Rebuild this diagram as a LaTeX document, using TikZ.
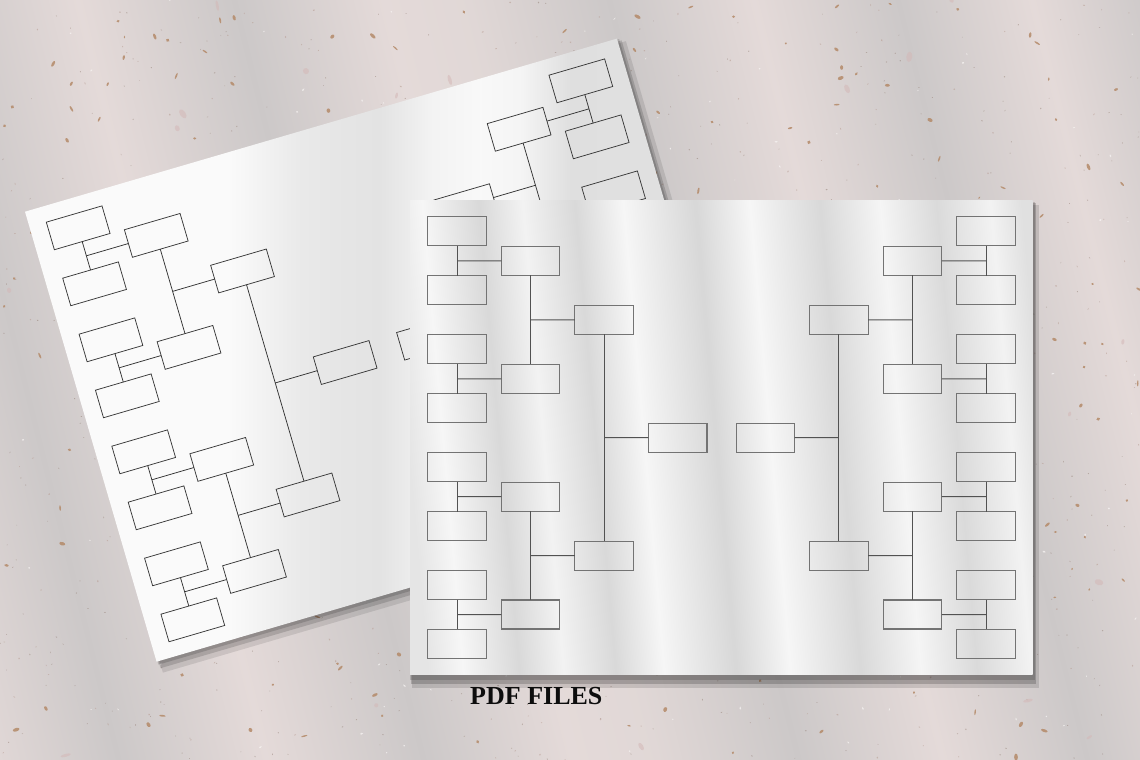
\documentclass[tikz,border=0pt]{standalone}
\usepackage{fontspec}
\setmainfont{Liberation Serif}
\usetikzlibrary{calc}

% background bands (local x -> bp = x/40 + 32.5)
\pgfdeclarehorizontalshading{bgsh}{100bp}{rgb(0bp)=(0.895,0.855,0.85);rgb(30bp)=(0.895,0.855,0.85);rgb(33.5bp)=(0.80,0.785,0.785);rgb(37.1bp)=(0.895,0.855,0.85);rgb(40.9bp)=(0.80,0.785,0.785);rgb(44.5bp)=(0.895,0.855,0.85);rgb(46.5bp)=(0.88,0.845,0.84);rgb(50bp)=(0.80,0.785,0.785);rgb(53.5bp)=(0.895,0.855,0.85);rgb(57bp)=(0.80,0.785,0.785);rgb(60.25bp)=(0.895,0.855,0.85);rgb(63.25bp)=(0.80,0.785,0.785);rgb(66.25bp)=(0.895,0.855,0.85);rgb(100bp)=(0.895,0.855,0.85)}

\pgfdeclarehorizontalshading{backsh}{100bp}{rgb(0bp)=(0.98,0.98,0.98);rgb(38.25bp)=(0.98,0.98,0.98);rgb(40bp)=(0.915,0.915,0.915);rgb(41bp)=(0.90,0.90,0.90);rgb(42bp)=(0.89,0.89,0.89);rgb(43.25bp)=(0.95,0.95,0.95);rgb(44.5bp)=(0.975,0.975,0.975);rgb(45.5bp)=(0.96,0.96,0.96);rgb(46.75bp)=(0.875,0.875,0.875);rgb(49bp)=(0.88,0.88,0.88);rgb(100bp)=(0.88,0.88,0.88)}

\pgfdeclarehorizontalshading{frontsh}{100bp}{rgb(0bp)=(0.90,0.90,0.90);rgb(42.75bp)=(0.90,0.90,0.90);rgb(43.6bp)=(0.965,0.965,0.965);rgb(45bp)=(0.85,0.85,0.85);rgb(46.1bp)=(0.95,0.95,0.95);rgb(47.4bp)=(0.85,0.85,0.85);rgb(48.6bp)=(0.965,0.965,0.965);rgb(50.4bp)=(0.845,0.845,0.845);rgb(51.75bp)=(0.965,0.965,0.965);rgb(53.5bp)=(0.85,0.85,0.85);rgb(55bp)=(0.96,0.96,0.96);rgb(56.4bp)=(0.855,0.855,0.855);rgb(57.75bp)=(0.95,0.95,0.95);rgb(58.5bp)=(0.88,0.88,0.88);rgb(100bp)=(0.88,0.88,0.88)}

\definecolor{spkbrown}{RGB}{180,138,105}
\definecolor{spkdot1}{RGB}{150,130,120}
\definecolor{spkdot2}{RGB}{185,160,150}
\definecolor{spkpink}{RGB}{212,184,183}
\definecolor{spkwhite}{RGB}{246,243,242}

\tikzset{
  fbox/.style={rectangle, draw=black!55, line width=1.1pt, minimum width=58.6pt, minimum height=29pt, inner sep=0pt, outer sep=0pt},
  fconn/.style={draw=black!68, line width=1pt},
  bbox/.style={rectangle, draw=black!78, line width=0.75pt, minimum width=58.6pt, minimum height=29pt, inner sep=0pt, outer sep=0pt},
  bconn/.style={draw=black!80, line width=0.75pt},
}

% #1 prefix, #2 side L/R, #3 sign, #4 anchor west/east, #5 style prefix f/b
\newcommand\bracketside[5]{%
  \foreach \k in {0,1,2,3}{%
    \pgfmathtruncatemacro\nb{8/2^\k-1}%
    \pgfmathsetmacro\cx{311.5+(#3)*(-264.5+73.55*\k)}%
    \foreach \j in {0,...,\nb}{%
      \pgfmathsetmacro\cy{30.7+29.47*((2^\k-1)+\j*2^(\k+1))}%
      \node[#5box] (#1#2\k-\j) at (\cx,\cy) {};
    }%
  }%
  \foreach \k in {0,1,2}{%
    \pgfmathtruncatemacro\np{4/2^\k-1}%
    \pgfmathtruncatemacro\kn{\k+1}%
    \foreach \m in {0,...,\np}{%
      \pgfmathtruncatemacro\ja{2*\m}%
      \pgfmathtruncatemacro\jb{2*\m+1}%
      \draw[#5conn] (#1#2\k-\ja.south) -- (#1#2\k-\jb.north);
      \draw[#5conn] ($(#1#2\k-\ja.south)!0.5!(#1#2\k-\jb.north)$) -- (#1#2\kn-\m.#4);
    }%
  }%
}

% #1 count, #2 colour, #3 min rx, #4 var rx, #5 min ry, #6 var ry, #7 opacity
\newcommand\flecks[7]{%
  \foreach \i in {1,...,#1}{%
    \pgfmathsetmacro\px{rnd*1140}%
    \pgfmathsetmacro\py{rnd*760}%
    \pgfmathsetmacro\ra{#3+rnd*#4}%
    \pgfmathsetmacro\rb{#5+rnd*#6}%
    \pgfmathsetmacro\an{rnd*180}%
    \fill[#2, opacity=#7, rotate around={\an:(\px,\py)}] (\px,\py) ellipse [x radius=\ra, y radius=\rb];
  }%
}

\begin{document}
\begin{tikzpicture}[x=1pt,y=-1pt]
\useasboundingbox (0,0) rectangle (1140,760);
\clip (0,0) rectangle (1140,760);

% background
\begin{scope}[transform canvas={rotate around={14:(570,380)}}]
  \shade[shading=bgsh] (-300,-500) rectangle (1700,1300);
\end{scope}

% terrazzo speckles
\pgfmathsetseed{4242}
\flecks{550}{spkdot1}{0.4}{0.6}{0.3}{0.4}{0.55}
\flecks{300}{spkdot2}{0.5}{0.8}{0.4}{0.5}{0.6}
\flecks{150}{spkwhite}{0.6}{1.2}{0.4}{0.6}{0.8}
\flecks{45}{spkpink}{2.0}{3.5}{1.2}{2.0}{0.55}
\flecks{230}{spkbrown}{1.1}{2.4}{0.7}{1.2}{0.85}

% back paper geometry and shadow
\begin{scope}[shift={(25,211.7)}, rotate=16.3, scale=0.99, transform shape]
  \coordinate (bp1) at (0,0);
  \coordinate (bp2) at (623,0);
  \coordinate (bp3) at (623,473.6);
  \coordinate (bp4) at (0,473.6);
  \fill[black, opacity=0.10] (3,5) rectangle (631,486);
  \fill[black, opacity=0.15] (2,3) rectangle (627,481);
  \fill[black, opacity=0.15] (1,1) rectangle (625,477);
\end{scope}
\begin{scope}
  \clip (bp1) -- (bp2) -- (bp3) -- (bp4) -- cycle;
  \shade[shading=backsh] (-300,-500) rectangle (1700,1300);
\end{scope}
\begin{scope}[shift={(25,211.7)}, rotate=16.3, scale=0.99, transform shape]
  \bracketside{b}{L}{1}{west}{b}
  \bracketside{b}{R}{-1}{east}{b}
\end{scope}

% front paper
\fill[black, opacity=0.12] (412,205) rectangle (1039,688);
\fill[black, opacity=0.18] (411,203) rectangle (1036,684);
\fill[black, opacity=0.15] (410,202) rectangle (1034.5,680);
\begin{scope}
  \clip (410,200.7) rectangle (1032.7,674.3);
  \begin{scope}[transform canvas={rotate around={5:(720,440)}}]
    \shade[shading=frontsh] (-300,-500) rectangle (1700,1300);
  \end{scope}
\end{scope}
\begin{scope}[shift={(410,200.7)}]
  \bracketside{f}{L}{1}{west}{f}
  \bracketside{f}{R}{-1}{east}{f}
\end{scope}

% caption
\node[font=\bfseries\fontsize{26}{30}\selectfont, anchor=base west, inner sep=0pt, text=black!95] (pdf) at (470,704.3) {PDF FILES};
\end{tikzpicture}
\end{document}
